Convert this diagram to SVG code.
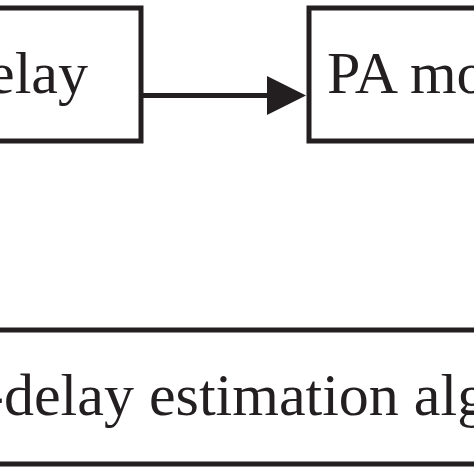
<svg xmlns="http://www.w3.org/2000/svg" width="474" height="474" viewBox="0 0 474 474">
<style>
.box{fill:#ffffff;stroke:#231f20;stroke-width:5}
.lbl{font-family:"Liberation Serif","Times New Roman",serif;font-size:60px;fill:#231f20}
.conn{stroke:#231f20;stroke-width:5;fill:none}
</style>
<rect x="0" y="0" width="474" height="474" fill="#ffffff"/>
<g id="node-delay">
<rect class="box" x="-10" y="8" width="151" height="133"/>
<text class="lbl" x="88" y="93" text-anchor="end">elay</text>
</g>
<g id="node-pa-model">
<rect class="box" x="309" y="8" width="200" height="133"/>
<text class="lbl" x="327" y="93">PA model</text>
</g>
<g id="node-estimation">
<rect class="box" x="-10" y="330" width="494" height="134"/>
<text class="lbl" x="-16" y="415">-delay estimation algorithm</text>
</g>
<g id="connectors">
<line class="conn" x1="141" y1="95.5" x2="270" y2="95.5"/>
<polygon points="267,76 306,95.5 267,115" fill="#231f20"/>
</g>
</svg>
